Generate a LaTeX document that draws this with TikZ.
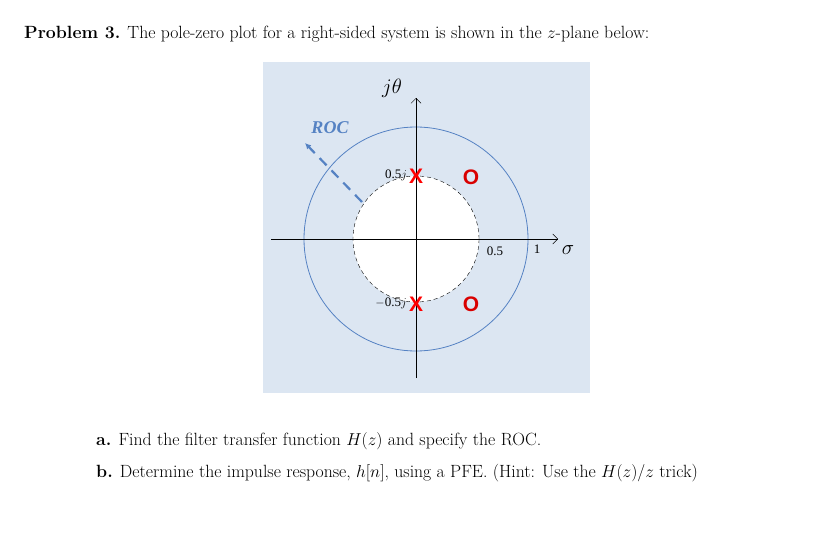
\documentclass[tikz,border=0pt]{standalone}
\usetikzlibrary{arrows.meta}
\usepackage{fontspec}
\newfontfamily\sansf{Liberation Sans}
\newfontfamily\serf{Liberation Serif}
\begin{document}
\begin{tikzpicture}[x=1pt,y=-1pt,
  txt/.style={anchor=west,inner sep=0,font=\fontsize{17.7}{20}\selectfont},
  lbl/.style={inner sep=0,font=\serf\fontsize{13}{15}\selectfont},
  pole/.style={text=red,inner sep=0,font=\sansf\bfseries\fontsize{21}{21}\selectfont},
  zero/.style={text=red!85!black,inner sep=0,font=\sansf\bfseries\fontsize{21}{21}\selectfont}]
\definecolor{bg}{RGB}{220,230,242}
\definecolor{roc}{RGB}{85,130,195}
\useasboundingbox (0,0) rectangle (816,540);
\fill[white] (0,0) rectangle (816,540);
\fill[bg] (263,62) rectangle (590,393);
\coordinate (O) at (416,239);
\draw[roc,thick] (O) circle (112);
\fill[white] (O) circle (63);
\draw[dashed,dash pattern=on 4pt off 3pt] (O) circle (63);
\draw[roc,thick] (O) -- (495,239);
\draw[-{Straight Barb[length=5pt]}] (271,239) -- (558,239);
\draw[-{Straight Barb[length=5pt]}] (416,378) -- (416,98);
\node[inner sep=0,font=\fontsize{22}{22}\selectfont] (jt) at (392,88) {$j\theta$};
\node[inner sep=0,font=\fontsize{22}{22}\selectfont] (sg) at (568,250) {$\sigma$};
\node[lbl] (h) at (495,251) {0.5};
\node[lbl] (one) at (537,249) {1};
\node[lbl] (pj) at (396,175) {0.5$j$};
\node[lbl] (mj) at (391,303) {$-$0.5$j$};
\node[pole] (p1) at (416,176) {X};
\node[pole] (p2) at (416,304) {X};
\node[zero] (z1) at (471,177) {O};
\node[zero] (z2) at (471,304) {O};
\node[text=roc,inner sep=0,font=\serf\bfseries\itshape\fontsize{18}{18}\selectfont] (r) at (330,128) {ROC};
\coordinate (a0) at (362,202);
\coordinate (a1) at (305,143);
\draw[roc,line width=2.2pt,dash pattern=on 10pt off 7pt,-{Latex[length=6pt,width=6pt]}] (a0) -- (a1);
\node[txt] (t) at (24,34) {\textbf{Problem 3.} The pole-zero plot for a right-sided system is shown in the $z$-plane below:};
\node[txt] (a) at (96,441) {\textbf{a.} Find the filter transfer function $H(z)$ and specify the ROC.};
\node[txt] (b) at (96,473) {\textbf{b.} Determine the impulse response, $h[n]$, using a PFE. (Hint: Use the $H(z)/z$ trick)};
\end{tikzpicture}
\end{document}
